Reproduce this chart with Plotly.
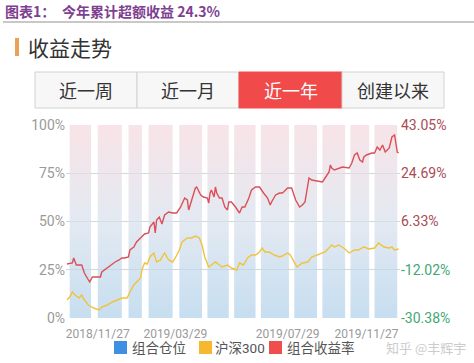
import plotly.graph_objects as go

# ---------------- data ----------------
tick_days = [23, 81, 165, 224]
tick_labels = ["2018/11/27", "2019/03/29", "2019/07/29", "2019/11/27"]

# periods (trading-day index) during which the portfolio is fully invested
hold_start = [2, 23, 46, 61, 84, 105, 125, 145, 170, 191, 212, 230]
hold_end = [18, 41, 56, 79, 101, 121, 141, 166, 187, 208, 226, 247]
hold_level = 100  # %

port_day = [0, 4, 5, 7, 11, 13, 16, 17, 19, 21, 25, 26, 28, 31, 34, 36, 39, 41, 43, 46,
            47, 50, 52, 55, 58, 61, 62, 65, 66, 67, 69, 71, 73, 76, 79, 82, 85, 88, 90, 91,
            93, 96, 97, 100, 102, 105, 106, 107, 108, 110, 111, 112, 114, 116, 118, 120, 121, 123, 126, 129,
            131, 133, 136, 138, 141, 144, 147, 150, 152, 153, 156, 159, 161, 162, 165, 168, 171, 174, 176, 178,
            181, 183, 187, 191, 193, 196, 197, 198, 200, 206, 211, 213, 215, 217, 219, 221, 222, 224, 228, 230,
            232, 234, 236, 238, 241, 243, 245, 247, 248]
port_ret = [-9.83, -9.45, -7.55, -10.21, -10.21, -13.26, -15.92, -16.68, -14.78, -14.78, -14.78, -12.88, -12.12, -10.98, -9.83, -9.07, -8.31, -7.55, -7.55, -7.17,
            -4.51, -3.37, -1.46, 0.06, 1.58, 1.96, 4.24, 6.15, 1.96, 6.91, 8.05, 5.38, 8.81, 9.95, 9.57, 9.57, 11.85, 15.28, 14.52, 10.71,
            13.76, 19.08, 19.46, 16.42, 15.66, 15.28, 13.37, 17.18, 18.32, 15.66, 19.46, 17.18, 15.28, 15.28, 11.85, 10.71, 13.76, 13.76, 11.85, 9.57,
            11.85, 11.85, 15.28, 18.32, 19.46, 19.46, 17.18, 15.28, 12.61, 13.76, 16.42, 17.18, 17.18, 17.56, 19.08, 19.08, 14.52, 11.85, 12.61, 13.76,
            22.89, 22.13, 21.74, 21.36, 22.89, 25.17, 27.83, 26.69, 25.93, 27.07, 26.69, 28.59, 31.64, 32.40, 29.73, 28.97, 30.88, 31.64, 32.40, 32.40,
            34.68, 33.54, 35.44, 32.78, 34.30, 38.49, 39.25, 32.78, 32.40]

hs300_day = [0, 2, 4, 6, 9, 11, 13, 16, 20, 24, 26, 30, 34, 37, 41, 45, 47, 50, 52, 55,
             56, 58, 60, 62, 65, 67, 70, 71, 73, 76, 79, 81, 84, 86, 90, 93, 96, 99, 101, 103,
             106, 108, 111, 114, 116, 120, 123, 127, 129, 132, 135, 138, 141, 144, 146, 148, 151, 155, 159, 161,
             165, 167, 170, 172, 176, 180, 183, 187, 191, 193, 198, 200, 203, 207, 211, 215, 218, 222, 226, 230,
             233, 237, 241, 243, 245, 248]
hs300_ret = [-23.53, -22.39, -20.49, -21.63, -22.77, -21.63, -23.53, -25.43, -26.58, -27.34, -26.19, -25.43, -24.29, -23.53, -22.77, -22.77, -20.49, -17.82, -16.68, -15.16,
             -12.12, -9.45, -9.83, -7.17, -5.65, -9.07, -8.31, -7.17, -5.65, -8.31, -9.07, -7.55, -4.51, -1.46, 0.06, 0.06, 0.82, 0.06, -2.61, -7.17,
             -10.98, -10.21, -9.07, -10.21, -10.98, -10.21, -11.36, -12.12, -9.45, -10.21, -7.55, -6.41, -6.41, -5.27, -3.75, -5.27, -5.27, -6.41, -7.17, -6.79,
             -5.65, -6.41, -9.07, -10.98, -9.45, -9.07, -7.17, -6.41, -5.65, -5.27, -2.61, -3.37, -2.61, -3.75, -5.65, -4.51, -4.51, -3.37, -4.13, -3.75,
             -1.84, -3.37, -3.75, -3.37, -4.51, -4.13]

left_ticks = [0, 25, 50, 75, 100]
right_ticks = [-30.38, -12.02, 6.33, 24.69, 43.05]
right_colors = ["#3fa874", "#3fa874", "#a94a55", "#a94a55", "#a94a55"]

legend_names = ["组合仓位", "沪深300", "组合收益率"]
legend_colors = ["#3f8fe2", "#f6b731", "#f04d4d"]
buttons = ["近一周", "近一月", "近一年", "创建以来"]
active_button = 2

# ---------------- figure ----------------
W, H = 474, 363
L, R, T, B = 66, 74, 125, 45
pw, ph = W - L - R, H - T - B


def pxx(x):
    return (x - L) / pw


def pxy(y):
    return (H - B - y) / ph


# position polygon built from holding periods
pos_x, pos_y = [], []
for s, e in zip(hold_start, hold_end):
    pos_x += [s, s, e, e]
    pos_y += [0, hold_level, hold_level, 0]

fig = go.Figure()
fig.add_trace(go.Scatter(
    x=pos_x, y=pos_y, mode="lines", line=dict(width=0), fill="tozeroy",
    fillgradient=dict(type="vertical", start=0, stop=100,
                      colorscale=[[0, "rgba(174,208,234,0.7)"], [0.5, "rgba(215,224,236,0.7)"],
                                  [1, "rgba(245,216,221,0.7)"]]),
    yaxis="y", showlegend=False, hoverinfo="skip"))
fig.add_trace(go.Scatter(
    x=hs300_day, y=hs300_ret, mode="lines", line=dict(color="#f1c33c", width=1.4),
    yaxis="y2", showlegend=False))
fig.add_trace(go.Scatter(
    x=port_day, y=port_ret, mode="lines", line=dict(color="#dc4f57", width=1.4),
    yaxis="y2", showlegend=False))

tickfont = dict(family="Roboto, 'Noto Sans CJK SC'", size=14, color="#9a9a9a")
fig.update_layout(
    template="none",
    width=W, height=H, margin=dict(l=L, r=R, t=T, b=B, autoexpand=False),
    paper_bgcolor="white", plot_bgcolor="white", showlegend=False,
    xaxis=dict(range=[-0.75, 249.05], tickvals=tick_days, ticktext=tick_labels,
               showgrid=False, zeroline=False, showline=False, ticks="", automargin=False,
               ticklabelstandoff=7,
               tickfont=dict(family="Roboto, 'Noto Sans CJK SC'", size=12, color="#9a9a9a")),
    yaxis=dict(range=[0, 100], tickvals=left_ticks, ticktext=[f"{v}%" for v in left_ticks],
               showgrid=True, gridcolor="#d6d6d6", gridwidth=1, zeroline=False, showline=False,
               ticks="", automargin=False, tickfont=tickfont),
    yaxis2=dict(range=[right_ticks[0], right_ticks[-1]], overlaying="y", side="right",
                tickvals=right_ticks,
                ticktext=[f"<span style='color:{c}'>{v:.2f}%</span>" for v, c in zip(right_ticks, right_colors)],
                showgrid=False, zeroline=False, showline=False, ticks="", automargin=False,
                tickfont=dict(family="Roboto, 'Noto Sans CJK SC'", size=14, color="#a94a55")),
)

shapes = []
ann = []
cjk = "'Noto Sans CJK SC', sans-serif"

# header
ann.append(dict(x=pxx(3), y=pxy(11), text="<b>图表1：</b>", xanchor="left", yanchor="middle",
                font=dict(family=cjk, size=14, color="#7d3f91")))
ann.append(dict(x=pxx(60), y=pxy(11), text="<b>今年累计超额收益 24.3%</b>", xanchor="left", yanchor="middle",
                font=dict(family=cjk, size=14, color="#7d3f91")))
shapes.append(dict(type="line", xref="paper", yref="paper", x0=pxx(3), x1=pxx(474), y0=pxy(22), y1=pxy(22),
                   line=dict(color="#c8c8c8", width=2)))
# section title
shapes.append(dict(type="rect", xref="paper", yref="paper", x0=pxx(15), x1=pxx(19), y0=pxy(38), y1=pxy(56),
                   fillcolor="#e9a255", line=dict(width=0)))
ann.append(dict(x=pxx(26), y=pxy(47), text="收益走势", xanchor="left", yanchor="middle",
                font=dict(family=cjk, size=21, color="#333333")))
# buttons
bx = [35, 137, 239, 342, 444]
for i, label in enumerate(buttons):
    active = i == active_button
    shapes.append(dict(type="rect", xref="paper", yref="paper", x0=pxx(bx[i]), x1=pxx(bx[i + 1]),
                       y0=pxy(108), y1=pxy(72),
                       fillcolor="#f14a4a" if active else "#f7f7f8",
                       line=dict(color="#f14a4a" if active else "#d2d2d2", width=1)))
    ann.append(dict(x=pxx((bx[i] + bx[i + 1]) / 2), y=pxy(90), text=label, xanchor="center", yanchor="middle",
                    font=dict(family=cjk, size=18, color="white" if active else "#333333")))
# legend
lx_sq = [114, 199, 269]
lx_tx = [130, 213, 285]
for name, col, sx, tx in zip(legend_names, legend_colors, lx_sq, lx_tx):
    shapes.append(dict(type="rect", xref="paper", yref="paper", x0=pxx(sx), x1=pxx(sx + 13),
                       y0=pxy(354), y1=pxy(341), fillcolor=col, line=dict(width=0)))
    ann.append(dict(x=pxx(tx), y=pxy(347.5), text=name, xanchor="left", yanchor="middle",
                    font=dict(family="Roboto, 'Noto Sans CJK SC'", size=13.5, color="#555555")))
# watermark
ann.append(dict(x=pxx(468), y=pxy(347), text="知乎 @丰辉宇", xanchor="right", yanchor="middle",
                font=dict(family=cjk, size=13, color="#cccccc")))

for a in ann:
    a.update(xref="paper", yref="paper", showarrow=False)
fig.update_layout(shapes=shapes, annotations=ann)

fig.write_html("out.html", config={"displayModeBar": False},
               post_script="document.body.style.margin='0';document.body.style.overflow='hidden';")
